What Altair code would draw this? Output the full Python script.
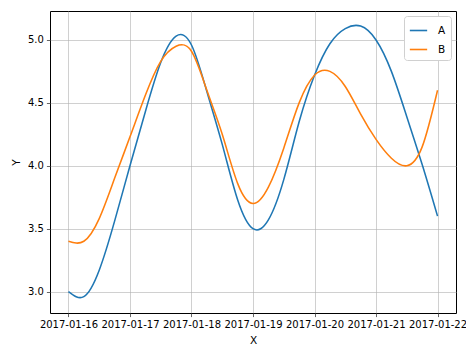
import altair as alt
import pandas as pd

# readings every quarter day, 2017-01-16 00:00 .. 2017-01-22 00:00
times = [
    "2017-01-16 00:00", "2017-01-16 06:00", "2017-01-16 12:00", "2017-01-16 18:00",
    "2017-01-17 00:00", "2017-01-17 06:00", "2017-01-17 12:00", "2017-01-17 18:00",
    "2017-01-18 00:00", "2017-01-18 06:00", "2017-01-18 12:00", "2017-01-18 18:00",
    "2017-01-19 00:00", "2017-01-19 06:00", "2017-01-19 12:00", "2017-01-19 18:00",
    "2017-01-20 00:00", "2017-01-20 06:00", "2017-01-20 12:00", "2017-01-20 18:00",
    "2017-01-21 00:00", "2017-01-21 06:00", "2017-01-21 12:00", "2017-01-21 18:00",
    "2017-01-22 00:00",
]
series_a = [3.00, 2.96, 3.17, 3.56, 4.00, 4.43, 4.82, 5.03, 4.96, 4.59, 4.17, 3.73,
            3.50, 3.57, 3.89, 4.35, 4.72, 4.97, 5.09, 5.11, 5.00, 4.75, 4.39, 4.01, 3.60]
series_b = [3.40, 3.40, 3.58, 3.90, 4.23, 4.56, 4.83, 4.95, 4.91, 4.60, 4.25, 3.86,
            3.70, 3.83, 4.14, 4.50, 4.72, 4.75, 4.63, 4.41, 4.21, 4.06, 4.00, 4.15, 4.60]
tick_dates = ["2017-01-16", "2017-01-17", "2017-01-18", "2017-01-19",
              "2017-01-20", "2017-01-21", "2017-01-22"]
y_ticks = [3.0, 3.5, 4.0, 4.5, 5.0]


def ms(s):
    return int(pd.Timestamp(s, tz="UTC").value // 10**6)


rows = []
for t, v in zip(times, series_a):
    rows.append({"t": ms(t), "value": v, "series": "A"})
for t, v in zip(times, series_b):
    rows.append({"t": ms(t), "value": v, "series": "B"})
df = pd.DataFrame(rows)

x_ticks = [ms(d) for d in tick_dates]
x_domain = [ms("2017-01-15 16:48"), ms("2017-01-22 07:12")]

font = "DejaVu Sans"

chart = alt.Chart(df).mark_line(interpolate="natural", strokeWidth=1.55).encode(
    x=alt.X("t:Q",
            scale=alt.Scale(domain=x_domain, nice=False, zero=False),
            axis=alt.Axis(values=x_ticks, labelExpr="utcFormat(datum.value, '%Y-%m-%d')",
                          title="X", labelAngle=0, labelFlush=False)),
    y=alt.Y("value:Q",
            scale=alt.Scale(domain=[2.83, 5.23], nice=False, zero=False),
            axis=alt.Axis(values=y_ticks, format=".1f", title="Y")),
    color=alt.Color("series:N",
                    scale=alt.Scale(domain=["A", "B"], range=["#1f77b4", "#ff7f0e"]),
                    legend=alt.Legend(title=None, orient="top-right", offset=5,
                                      symbolType="stroke", symbolStrokeWidth=1.6,
                                      symbolSize=300, labelFontSize=10.5, labelFont=font,
                                      fillColor="white", strokeColor="#d0d0d0",
                                      padding=5, cornerRadius=3, rowPadding=4,
                                      labelOffset=10)),
).properties(
    width=406, height=302,
    autosize=alt.AutoSizeParams(type="none"),
    padding={"left": 42, "top": 3, "right": 10, "bottom": 35},
).configure_view(
    stroke="black", strokeWidth=1
).configure_axis(
    grid=True, gridColor="#b0b0b0", gridWidth=0.6,
    domain=False, tickColor="black", tickSize=3.6, tickWidth=0.6,
    labelFont=font, labelFontSize=10, labelColor="black", labelPadding=3,
    titleFont=font, titleFontSize=10.5, titleFontWeight="normal", titleColor="black",
).configure_axisX(
    titlePadding=6
).configure_axisY(
    titlePadding=6
)

chart.save("out.html", embed_options={"renderer": "svg", "actions": False})
